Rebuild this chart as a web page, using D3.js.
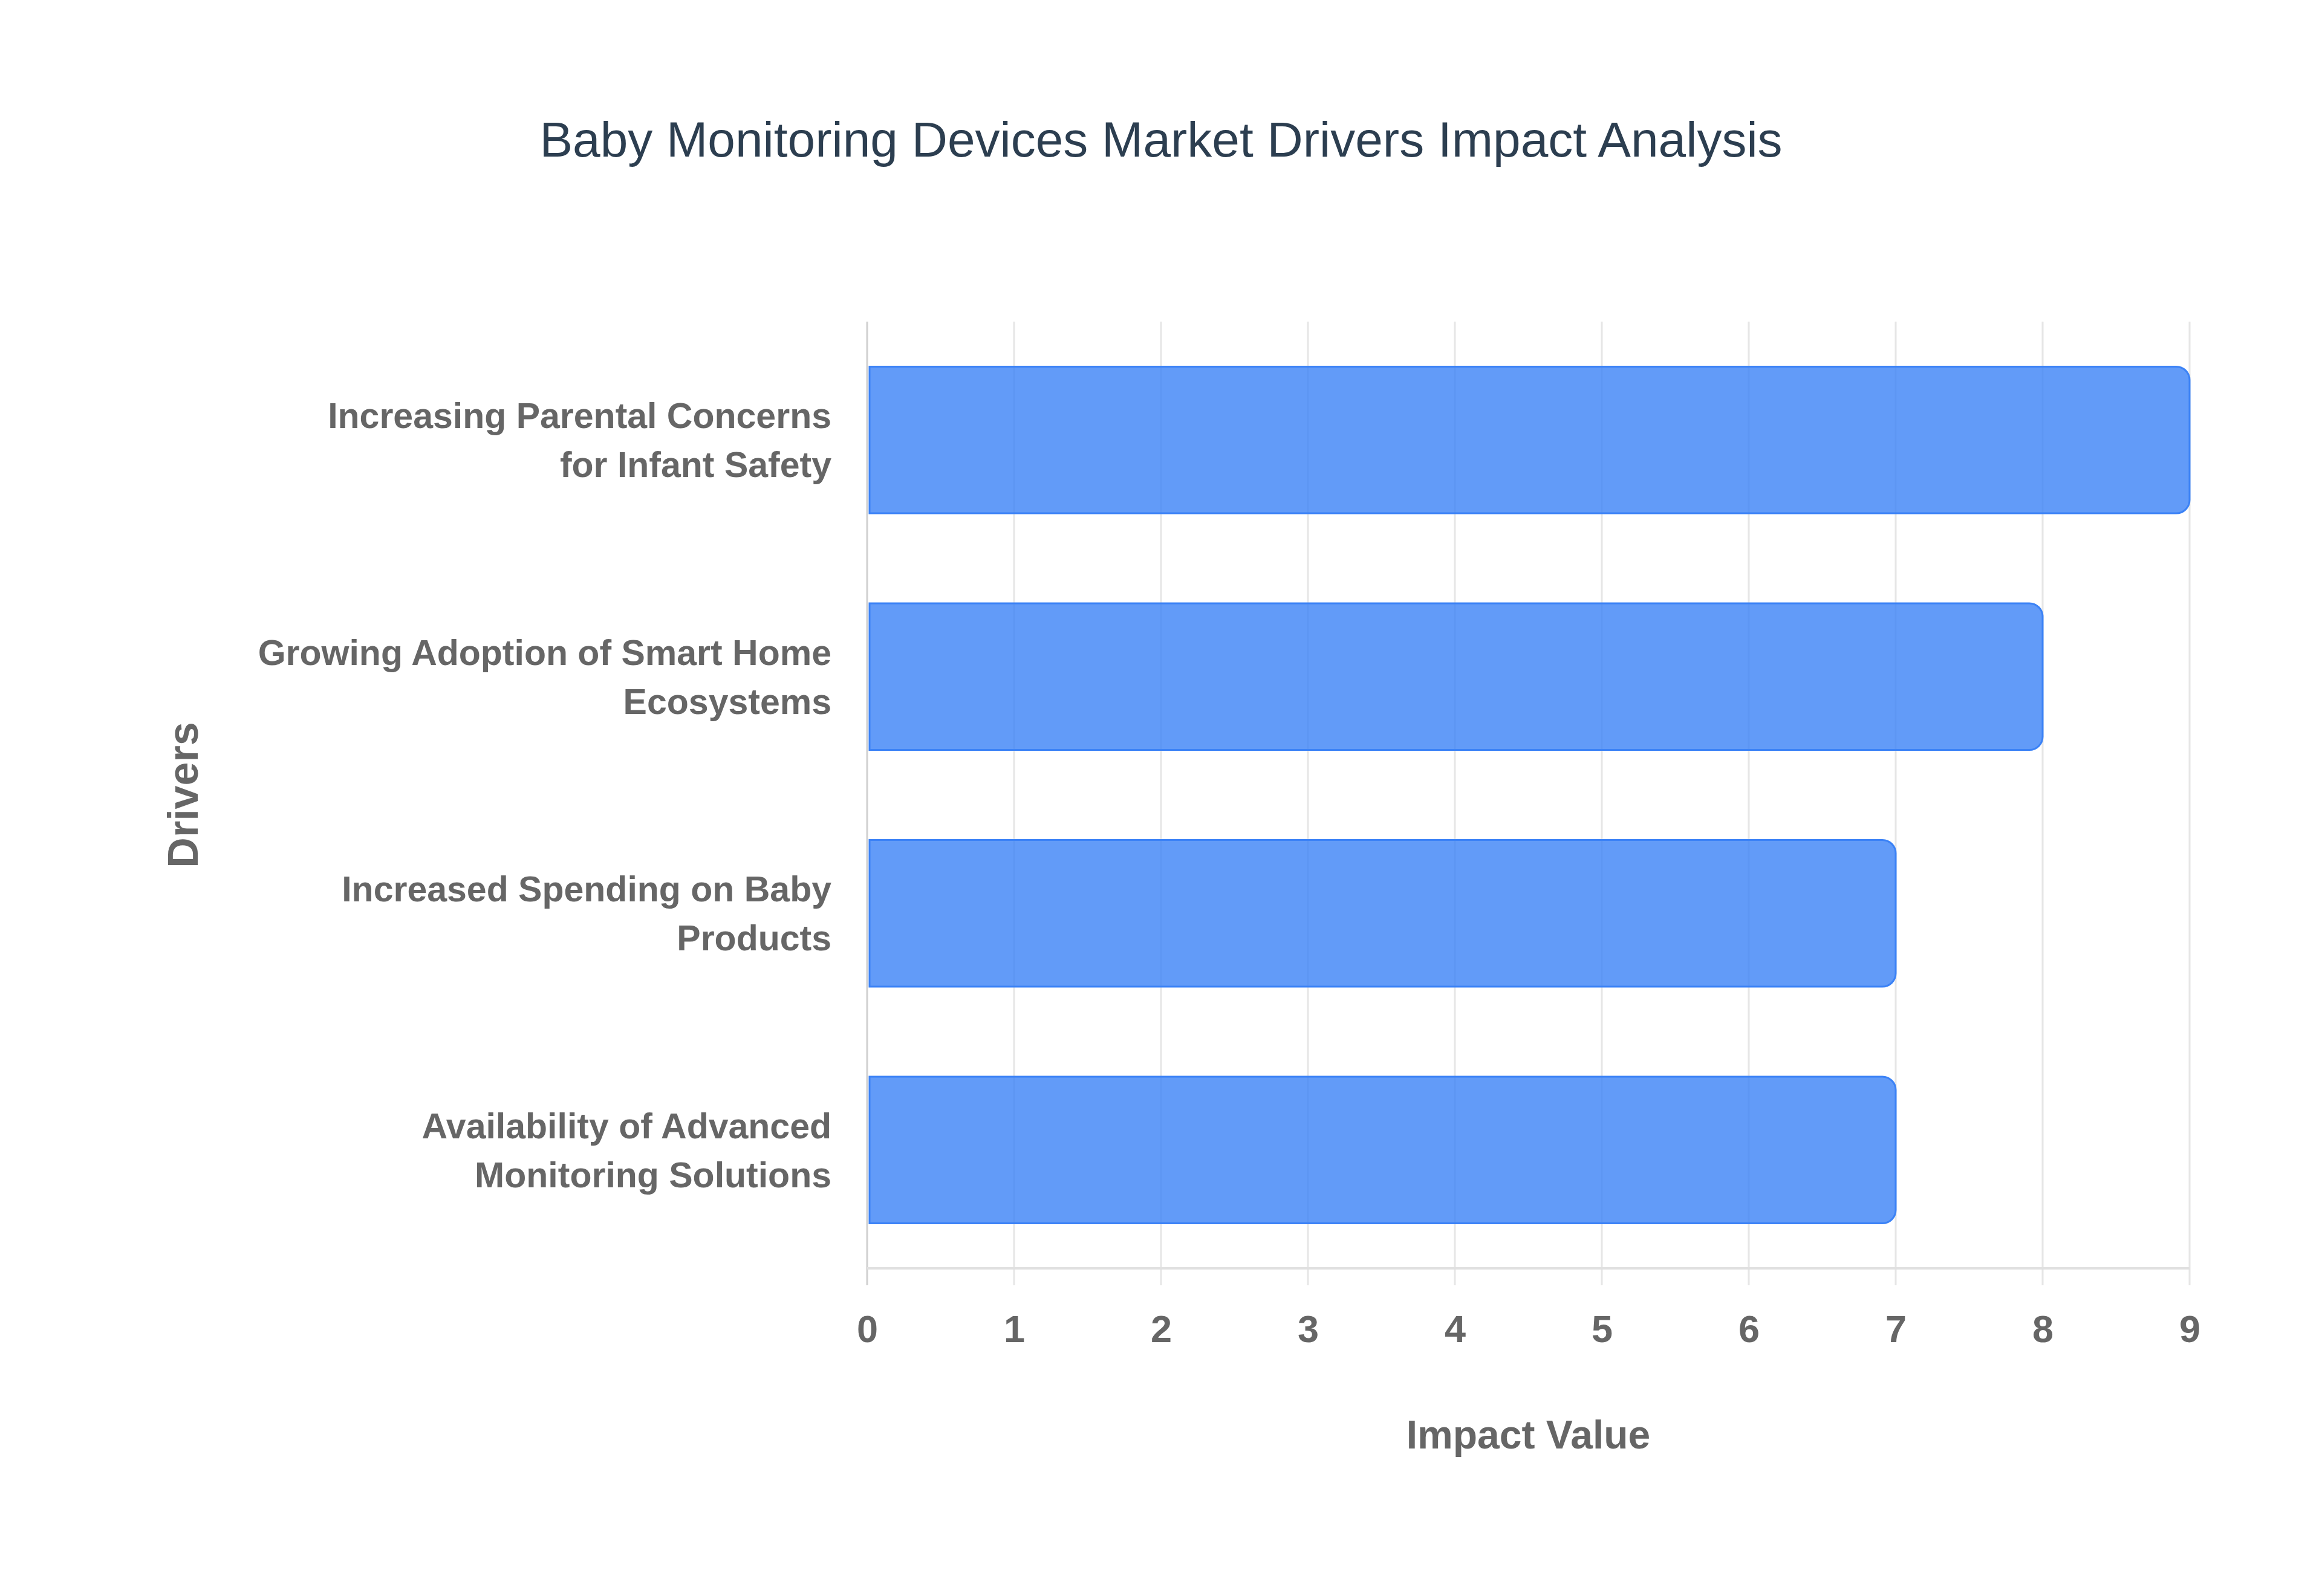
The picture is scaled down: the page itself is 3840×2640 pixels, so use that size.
<!DOCTYPE html>
<html>
<head>
<meta charset="utf-8">
<script src="https://cdn.jsdelivr.net/npm/d3@7"></script>
<style>
  html, body { margin: 0; padding: 0; background: #ffffff; }
  svg { display: block; }
</style>
</head>
<body>
<script>
// ---- data ----
const categories = [
  "Increasing Parental Concerns\nfor Infant Safety",
  "Growing Adoption of Smart Home\nEcosystems",
  "Increased Spending on Baby\nProducts",
  "Availability of Advanced\nMonitoring Solutions"
];
const impactValues = [9, 8, 7, 7];
const xTicks = [0, 1, 2, 3, 4, 5, 6, 7, 8, 9];
const chartTitle = "Baby Monitoring Devices Market Drivers Impact Analysis";
const xTitle = "Impact Value";
const yTitle = "Drivers";

// ---- layout ----
const W = 3840, H = 2640;
const plot = { left: 1434, right: 3621, top: 532, bottom: 2098 };
const FONT = "'Liberation Sans', Arial, Helvetica, sans-serif";

const svg = d3.select("body").append("svg")
  .attr("width", W).attr("height", H)
  .attr("viewBox", `0 0 ${W} ${H}`);

svg.append("rect").attr("width", W).attr("height", H).attr("fill", "#ffffff");

const x = d3.scaleLinear().domain([0, 9]).range([plot.left, plot.right]);
const y = d3.scaleBand().domain(categories).range([plot.top, plot.bottom])
  .paddingInner(0.38).paddingOuter(0.19);

// gridlines (vertical), extending below axis as ticks
const grid = svg.append("g").attr("class", "grid");
grid.selectAll("line").data(xTicks).join("line")
  .attr("x1", d => x(d)).attr("x2", d => x(d))
  .attr("y1", plot.top).attr("y2", plot.bottom + 28)
  .attr("stroke", d => d === 0 ? "#d0d0d0" : "#e6e6e6")
  .attr("stroke-width", 3);

// x axis baseline
svg.append("line")
  .attr("x1", plot.left).attr("x2", plot.right)
  .attr("y1", plot.bottom).attr("y2", plot.bottom)
  .attr("stroke", "#e0e0e0").attr("stroke-width", 4);

// bars with rounded right corners
const r = 22;
function barPath(x0, x1, y0, h) {
  const rr = Math.min(r, (x1 - x0) / 2, h / 2);
  return `M${x0},${y0}H${x1 - rr}A${rr},${rr} 0 0 1 ${x1},${y0 + rr}` +
         `V${y0 + h - rr}A${rr},${rr} 0 0 1 ${x1 - rr},${y0 + h}H${x0}Z`;
}
svg.append("g").selectAll("path").data(categories).join("path")
  .attr("d", (c, i) => barPath(x(0) + 4, x(impactValues[i]), y(c), y.bandwidth()))
  .attr("fill", "#3b82f6").attr("fill-opacity", 0.8)
  .attr("stroke", "#3b82f6").attr("stroke-width", 3);

// x tick labels
const xAxis = d3.axisBottom(x).tickValues(xTicks).tickSize(0).tickPadding(0).tickFormat(d3.format("d"));
const gx = svg.append("g").attr("transform", `translate(0,${plot.bottom})`).call(xAxis);
gx.select(".domain").remove();
gx.selectAll("text")
  .attr("y", 122).attr("dy", null)
  .attr("font-family", FONT).attr("font-size", 63).attr("font-weight", "bold")
  .attr("fill", "#666666");

// y category labels (two lines, right aligned)
const yAxis = d3.axisLeft(y).tickSize(0).tickFormat("");
const gy = svg.append("g").attr("transform", `translate(${plot.left},0)`).call(yAxis);
gy.select(".domain").remove();
gy.selectAll(".tick").each(function(c) {
  const lines = c.split("\n");
  const t = d3.select(this).select("text")
    .attr("x", -59).attr("dy", null)
    .attr("text-anchor", "end")
    .attr("font-family", FONT).attr("font-size", 59).attr("font-weight", "bold")
    .attr("fill", "#666666");
  const lh = 81;
  const firstBaseline = -((lines.length - 1) * lh) / 2 + 21;
  t.selectAll("tspan").data(lines).join("tspan")
    .attr("x", -59)
    .attr("y", (d, i) => firstBaseline + i * lh)
    .text(d => d);
});

// title
svg.append("text")
  .attr("x", 1920).attr("y", 259)
  .attr("text-anchor", "middle")
  .attr("font-family", FONT).attr("font-size", 82)
  .attr("fill", "#2c3e50")
  .text(chartTitle);

// x axis title
svg.append("text")
  .attr("x", (plot.left + plot.right) / 2).attr("y", 2396)
  .attr("text-anchor", "middle")
  .attr("font-family", FONT).attr("font-size", 66).attr("font-weight", "bold")
  .attr("fill", "#666666")
  .text(xTitle);

// y axis title
svg.append("text")
  .attr("transform", `translate(327,${(plot.top + plot.bottom) / 2}) rotate(-90)`)
  .attr("text-anchor", "middle")
  .attr("font-family", FONT).attr("font-size", 70).attr("font-weight", "bold")
  .attr("fill", "#666666")
  .text(yTitle);
</script>
</body>
</html>
